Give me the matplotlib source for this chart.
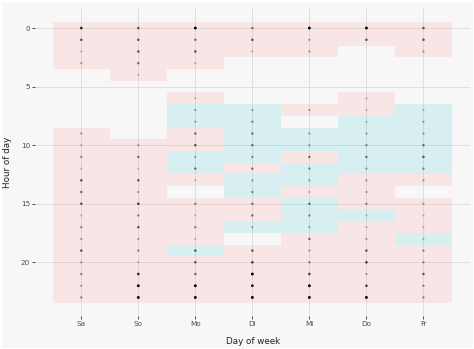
import matplotlib
matplotlib.use("Agg")
import matplotlib.pyplot as plt
import numpy as np

# data
days = ["Sa", "So", "Mo", "Di", "Mi", "Do", "Fr"]
hours = list(range(24))
hour_ticks = [0, 5, 10, 15, 20]

# tile sign per hour: p = above average (red), b = below (blue), . = no tile
tiles_sa = "pppp.....ppppppppppppppp"
tiles_so = "ppppp.....pppppppppppppp"
tiles_mo = "pppp..pbbppbbp.ppppbpppp"
tiles_di = "ppp....bbbbbpbbppb.ppppp"
tiles_mi = "ppp....p.bbpbbpbbbpppppp"
tiles_do = "pp....ppbbbbbpppbppppppp"
tiles_fr = "ppp....bbbbbbp.pppbppppp"

# dot intensity per hour (0 = no dot)
dots_sa = [4, 3, 1, 1.5, 0, 0, 0, 0, 0, 1.5, 1, 2, 1, 3, 2.5, 3, 1, 2, 1.5, 3, 1.5, 2, 1.5, 2]
dots_so = [3, 3, 3, 2.5, 1, 0, 0, 0, 0, 0, 1.5, 2.5, 1, 3, 1.5, 3.5, 2, 3, 1.5, 2, 1, 4, 5, 5]
dots_mo = [5, 2.5, 3, 1, 0, 0, 1, 1.5, 1.5, 2.5, 3, 1.5, 2.5, 1, 0, 2, 1, 2, 1, 3, 3, 2.5, 5, 5]
dots_di = [2.5, 3, 1, 0, 0, 0, 0, 1.5, 2, 2.5, 2.5, 2, 2.5, 1.5, 2, 2.5, 2.5, 1.5, 0, 3, 3.5, 5, 4.5, 5]
dots_mi = [5, 1.5, 1.5, 0, 0, 0, 0, 1.5, 0, 1.5, 1.5, 2.5, 2, 1.5, 1, 2.5, 2, 1.5, 2.5, 1.5, 2, 3.5, 5, 5]
dots_do = [5, 3, 0, 0, 0, 0, 1, 1, 1, 1.5, 2, 2.5, 1.5, 1.5, 1.5, 2, 1, 1, 1.5, 3, 3.5, 1.5, 3.5, 5]
dots_fr = [3, 3, 1.5, 0, 0, 0, 0, 1, 1.5, 1.5, 2.5, 3, 2, 1.5, 0, 1.5, 1, 1, 1, 2, 2, 3, 2, 2]

all_tiles = [tiles_sa, tiles_so, tiles_mo, tiles_di, tiles_mi, tiles_do, tiles_fr]
all_dots = [dots_sa, dots_so, dots_mo, dots_di, dots_mi, dots_do, dots_fr]

bg = "#F7F7F7"
fill = {"p": "#F8766D", "b": "#00BFC4"}

fig = plt.figure(figsize=(4.74, 3.49), dpi=100, facecolor=bg, edgecolor="white", linewidth=2)
ax = fig.add_axes([0.074, 0.095, 0.918, 0.882])
ax.set_facecolor(bg)

# tiles
for i, t in enumerate(all_tiles):
    for sign in ["p", "b"]:
        hs = [h for h in hours if t[h] == sign]
        ax.bar([i] * len(hs), [1] * len(hs), bottom=np.array(hs) - 0.5, width=1.0,
               color=fill[sign], alpha=0.13, linewidth=0, zorder=2)

# dots
for i, d in enumerate(all_dots):
    d = np.array(d, dtype=float)
    hs = np.array(hours)[d > 0]
    v = d[d > 0]
    cols = [(0, 0, 0, 0.06 + 0.188 * a) for a in v]
    ax.scatter([i] * len(hs), hs, s=1.8 + 0.5 * v, c=cols, linewidths=0, zorder=3)

ax.set_xticks(range(len(days)))
ax.set_xticklabels(days)
ax.set_yticks(hour_ticks)
ax.set_xlim(-0.81, 6.82)
ax.set_ylim(24.57, -1.71)

ax.grid(True, color="#DCDCDC", linewidth=0.6, zorder=1)
ax.set_axisbelow(True)
for s in ax.spines.values():
    s.set_visible(False)
ax.tick_params(length=2, width=0.6, color="#333333", labelcolor="#4D4D4D",
               labelsize=5.2, pad=1.5)

ax.set_xlabel("Day of week", fontsize=6.3, color="#222222")
ax.set_ylabel("Hour of day", fontsize=6.3, color="#222222")
ax.xaxis.set_label_coords(0.5, -0.07)
ax.yaxis.set_label_coords(-0.052, 0.5)

fig.savefig("out.png", dpi=100, facecolor=bg)
